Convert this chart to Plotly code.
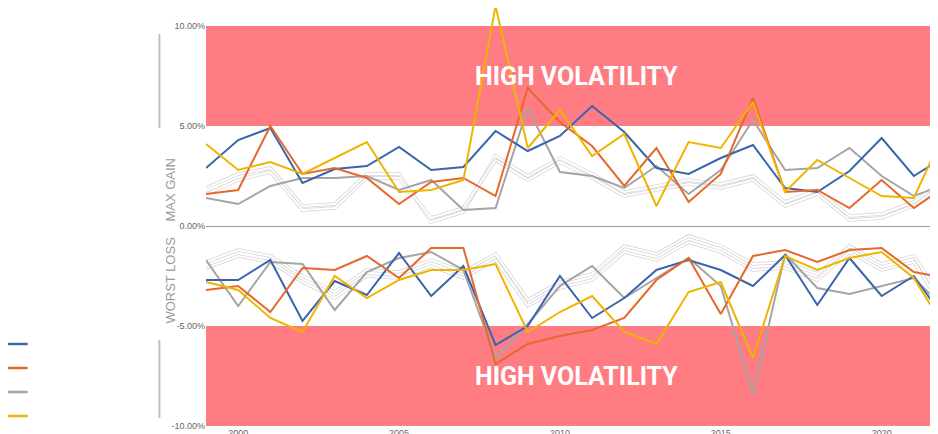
import plotly.graph_objects as go

years = list(range(1999, 2023))

gain_blue = [2.9, 4.3, 4.9, 2.15, 2.85, 3.0, 3.95, 2.8, 2.95, 4.75, 3.75, 4.5, 6.0, 4.7, 2.9, 2.6, 3.4, 4.05, 1.9, 1.7, 2.75, 4.4, 2.5, 3.5]
gain_orange = [1.6, 1.8, 5.0, 2.6, 2.9, 2.4, 1.1, 2.2, 2.4, 1.5, 6.9, 5.2, 4.0, 2.0, 3.9, 1.2, 2.6, 6.4, 1.7, 1.8, 0.9, 2.3, 0.9, 2.0]
gain_gray = [1.4, 1.1, 2.0, 2.4, 2.4, 2.5, 1.8, 2.3, 0.8, 0.9, 5.9, 2.7, 2.5, 1.9, 3.0, 1.6, 2.8, 5.3, 2.8, 2.9, 3.9, 2.5, 1.5, 2.1]
gain_gold = [4.1, 2.8, 3.2, 2.6, 3.4, 4.2, 1.7, 1.8, 2.3, 11.0, 3.9, 5.8, 3.5, 4.6, 1.0, 4.2, 3.9, 6.2, 1.7, 3.3, 2.4, 1.5, 1.4, 4.9]
gain_white1 = [1.9, 2.6, 2.9, 1.0, 1.1, 2.6, 2.6, 0.2, 0.7, 3.5, 2.5, 3.4, 2.6, 1.7, 2.0, 2.3, 2.1, 2.5, 1.2, 1.8, 0.5, 0.6, 1.2, 2.4]
gain_white2 = [1.6, 2.3, 2.7, 0.8, 0.9, 2.4, 2.4, 0.4, 0.9, 3.3, 2.3, 3.2, 2.4, 1.5, 1.8, 2.1, 1.9, 2.3, 1.0, 1.6, 0.3, 0.4, 1.0, 2.2]

loss_blue = [-2.7, -2.7, -1.7, -4.75, -2.75, -3.45, -1.35, -3.5, -2.0, -5.95, -5.0, -2.5, -4.6, -3.6, -2.2, -1.7, -2.2, -3.0, -1.45, -3.95, -1.6, -3.5, -2.5, -4.75]
loss_orange = [-3.2, -3.0, -4.3, -2.1, -2.2, -1.5, -2.6, -1.1, -1.1, -6.9, -5.9, -5.5, -5.2, -4.6, -2.7, -1.6, -4.4, -1.5, -1.2, -1.8, -1.2, -1.1, -2.3, -2.6]
loss_gray = [-1.7, -4.0, -1.8, -1.9, -4.2, -2.3, -1.6, -1.3, -2.2, -6.6, -4.9, -3.0, -2.0, -3.6, -2.6, -1.6, -3.0, -8.4, -1.4, -3.1, -3.4, -3.0, -2.6, -4.2]
loss_gold = [-2.8, -3.2, -4.6, -5.3, -2.5, -3.6, -2.7, -2.2, -2.2, -1.9, -5.3, -4.3, -3.5, -5.3, -5.9, -3.3, -2.8, -6.6, -1.5, -2.2, -1.6, -1.3, -2.6, -5.2]
loss_white1 = [-1.8, -1.2, -1.5, -2.5, -3.3, -2.2, -2.3, -1.7, -2.3, -1.4, -3.7, -2.8, -2.4, -1.0, -1.4, -0.5, -1.0, -1.9, -1.8, -2.4, -1.0, -1.9, -1.5, -4.0]
loss_white2 = [-2.1, -1.5, -1.8, -2.8, -3.6, -2.5, -2.6, -2.0, -2.6, -1.7, -4.0, -3.1, -2.7, -1.3, -1.7, -0.8, -1.3, -2.2, -2.1, -2.7, -1.3, -2.2, -1.8, -4.3]

y_ticks = [-10, -5, 0, 5, 10]
y_labels = ["-10.00%", "-5.00%", "0.00%", "5.00%", "10.00%"]

BLUE, ORANGE, GRAY, GOLD = "#3b64ad", "#e5692a", "#a5a5a5", "#f0b400"

fig = go.Figure()

for a, b in [(gain_white1, loss_white1), (gain_white2, loss_white2)]:
    for vals in (a, b):
        fig.add_trace(go.Scatter(x=years, y=vals, mode="lines", line=dict(color="#d4d4d4", width=3.5), hoverinfo="skip"))
        fig.add_trace(go.Scatter(x=years, y=vals, mode="lines", line=dict(color="white", width=2)))

for color, g, l in [(GRAY, gain_gray, loss_gray), (BLUE, gain_blue, loss_blue),
                    (ORANGE, gain_orange, loss_orange), (GOLD, gain_gold, loss_gold)]:
    fig.add_trace(go.Scatter(x=years, y=g, mode="lines", line=dict(color=color, width=2)))
    fig.add_trace(go.Scatter(x=years, y=l, mode="lines", line=dict(color=color, width=2)))

# high volatility bands
for y0, y1 in [(5, 10), (-5, -10)]:
    fig.add_shape(type="rect", xref="paper", x0=0, x1=1, y0=y0, y1=y1,
                  fillcolor="rgba(255,80,88,0.75)", line_width=0, layer="below")
for yv in (7.5, -7.5):
    fig.add_annotation(x=0.5, xref="paper", y=yv, text="<b>HIGH VOLATILITY</b>", showarrow=False,
                       font=dict(color="white", size=25, family="Roboto"))

# axis titles with rules
fig.add_annotation(x=-0.062, xref="paper", y=1.8, text="MAX GAIN", textangle=-90, showarrow=False,
                   font=dict(color="#9a9a9a", size=13))
fig.add_annotation(x=-0.062, xref="paper", y=-2.7, text="WORST LOSS", textangle=-90, showarrow=False,
                   font=dict(color="#9a9a9a", size=13))
fig.add_shape(type="line", xref="paper", x0=-0.063, x1=-0.063, y0=4.9, y1=9.6, line=dict(color="#c0c0c0", width=2))
fig.add_shape(type="line", xref="paper", x0=-0.063, x1=-0.063, y0=-5.7, y1=-9.6, line=dict(color="#c0c0c0", width=2))

# legend swatches
for i, c in enumerate([BLUE, ORANGE, GRAY, GOLD]):
    yp = (434 - 16 - (336 + 24 * i)) / 418
    fig.add_shape(type="line", xref="paper", yref="paper", x0=-0.268, x1=-0.241, y0=yp, y1=yp,
                  line=dict(color=c, width=2.5))

fig.update_layout(
    width=938, height=434, showlegend=False,
    margin=dict(l=198, r=0, t=0, b=16, autoexpand=False),
    plot_bgcolor="white", paper_bgcolor="white",
    font=dict(family="Liberation Sans", color="#666666", size=9),
    xaxis=dict(range=[1999, 2022], tickvals=[2000, 2005, 2010, 2015, 2020], showgrid=False,
               zeroline=False, ticks="", tickfont=dict(size=9), automargin=False, ticklabelstandoff=0),
    yaxis=dict(range=[-10, 10.9], tickvals=y_ticks, ticktext=y_labels, showgrid=False,
               zeroline=True, zerolinecolor="#999999", zerolinewidth=1, ticks="", tickfont=dict(size=9),
               automargin=False),
)

fig.write_html("out.html")
